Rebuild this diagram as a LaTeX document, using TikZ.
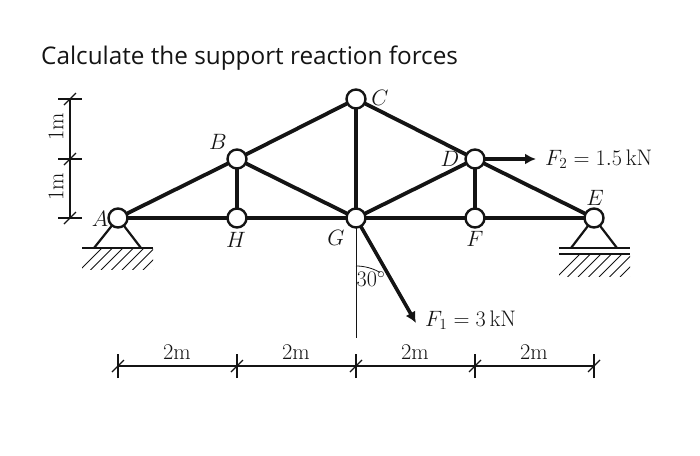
\documentclass[tikz,border=0pt]{standalone}
\usepackage{fontspec}
\newfontfamily\titlefont{Open Sans}
\usetikzlibrary{arrows.meta}
\definecolor{ink}{HTML}{141414}
\tikzset{
  joint/.style={circle,draw=ink,fill=white,line width=2.4pt,minimum size=19pt,inner sep=0pt,outer sep=0pt},
  bar/.style={draw=ink,line width=3.8pt},
  thinbar/.style={draw=ink,line width=1.6pt},
  dimline/.style={draw=ink,line width=1.2pt},
  force/.style={draw=ink,line width=3.6pt,-{Latex[length=11pt,width=11pt]}},
  lab/.style={inner sep=0pt,text=ink,font=\fontsize{21}{25}\selectfont,transform shape,scale=1.07},
  hatchline/.style={draw=ink,line width=0.9pt}
}
\begin{document}
\begin{tikzpicture}[x=1pt,y=-1pt]
\useasboundingbox (0,0) rectangle (700,455);
\node[anchor=base west,inner sep=0pt,text=ink,font=\titlefont\fontsize{24.3}{28}\selectfont] (title) at (41,64) {Calculate the support reaction forces};
% joints
\node[joint] (A) at (118,218) {};
\node[joint] (B) at (237,159) {};
\node[joint] (H) at (237,218) {};
\node[joint] (C) at (356,99) {};
\node[joint] (G) at (356,218) {};
\node[joint] (D) at (475,159) {};
\node[joint] (F) at (475,218) {};
\node[joint] (E) at (594,218) {};
% bars
\foreach \p/\q in {A/B,B/C,C/D,D/E,A/H,H/G,G/F,F/E,B/H,C/G,D/F,B/G,G/D}
  \draw[bar] (\p) -- (\q);
% supports
\coordinate (al) at (94,248); \coordinate (ar) at (141,248);
\coordinate (el) at (571,248); \coordinate (er) at (617,248);
\draw[thinbar,line width=2.2pt] (A) -- (al);
\draw[thinbar,line width=2.2pt] (A) -- (ar);
\draw[thinbar,line width=2.2pt] (E) -- (el);
\draw[thinbar,line width=2.2pt] (E) -- (er);
\coordinate (a0) at (82,248); \coordinate (a1) at (153,248);
\coordinate (e0) at (559,248); \coordinate (e1) at (630,248);
\coordinate (e2) at (559,254); \coordinate (e3) at (630,254);
\draw[thinbar] (a0) -- (a1);
\draw[thinbar] (e0) -- (e1);
\draw[thinbar] (e2) -- (e3);
\begin{scope}
\clip (82,248) rectangle (153,269);
\foreach \i in {0,...,9} \draw[hatchline] (80+\i*10.5,270) -- ++(23,-23);
\end{scope}
\begin{scope}
\clip (559,254) rectangle (630,276);
\foreach \i in {0,...,9} \draw[hatchline] (557+\i*10.5,277) -- ++(24,-24);
\end{scope}
% forces
\coordinate (f1) at (416,323);
\coordinate (f2) at (536,159);
\coordinate (v) at (356,338);
\draw[draw=ink,line width=1pt] (G) -- (v);
\draw[force] (G) -- (f1);
\draw[force] (D) -- (f2);
\draw[draw=ink,line width=0.8pt] (356,266) arc[start angle=90,end angle=60,radius=48,x radius=48,y radius=-48];
% labels
\node[lab] (lA) at (100,219) {$A$};
\node[lab] (lB) at (218,142) {$B$};
\node[lab] (lC) at (380,98) {$C$};
\node[lab] (lD) at (450,159) {$D$};
\node[lab] (lE) at (595,198) {$E$};
\node[lab] (lF) at (475,239) {$F$};
\node[lab] (lG) at (336,238) {$G$};
\node[lab] (lH) at (236,240) {$H$};
\node[lab] (l30) at (371,279) {$30^\circ$};
\node[lab,anchor=west] (lf1) at (425,320) {$F_1 = 3\,\mathrm{kN}$};
\node[lab,anchor=west] (lf2) at (545,159) {$F_2 = 1.5\,\mathrm{kN}$};
% dimensions
\coordinate (d0) at (118,366); \coordinate (d1) at (237,366); \coordinate (d2) at (356,366);
\coordinate (d3) at (475,366); \coordinate (d4) at (594,366);
\draw[dimline] (d0) -- (d1) -- (d2) -- (d3) -- (d4);
\foreach \c in {d0,d1,d2,d3,d4}{
  \draw[dimline] ([yshift=-12pt]\c) -- ([yshift=12pt]\c);
  \draw[dimline] ([shift={(-6,6)}]\c) -- ([shift={(6,-6)}]\c);
}
\node[lab] (m1) at (177,352) {2m};
\node[lab] (m2) at (296,352) {2m};
\node[lab] (m3) at (415,352) {2m};
\node[lab] (m4) at (534,352) {2m};
\coordinate (h0) at (70,99); \coordinate (h1) at (70,159); \coordinate (h2) at (70,218);
\draw[dimline] (h0) -- (h1) -- (h2);
\foreach \c in {h0,h1,h2}{
  \draw[dimline] ([xshift=-12pt]\c) -- ([xshift=12pt]\c);
  \draw[dimline] ([shift={(-6,6)}]\c) -- ([shift={(6,-6)}]\c);
}
\node[lab,rotate=90] (n1) at (56,127) {1m};
\node[lab,rotate=90] (n2) at (56,187) {1m};
\end{tikzpicture}
\end{document}
